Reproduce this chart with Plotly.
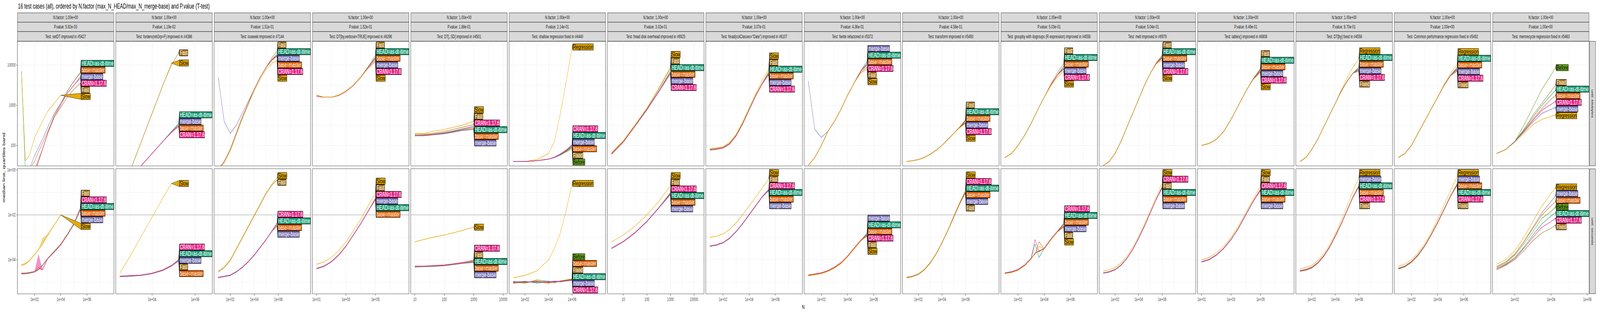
import plotly.graph_objects as go

FONT = "Liberation Sans, Arial, sans-serif"
TITLE = "16 test cases (all), ordered by N.factor (max_N_HEAD/max_N_merge-base) and P.value (T-test)"
N_FACTOR = ["1.00e+00"] * 16
P_VALUE = ["5.92e-03", "1.19e-02", "1.51e-01", "1.52e-01", "1.88e-01", "2.14e-01", "3.02e-01", "3.07e-01",
           "4.36e-01", "4.58e-01", "5.03e-01", "5.04e-01", "6.49e-01", "8.70e-01", "1.00e+00", "1.00e+00"]
TEST = [
    "Test: setDT improved in #5427",
    "Test: forderv(retGrp=F) improved in #4386",
    "Test: isoweek improved in #7144",
    "Test: DT[by,verbose=TRUE] improved in #6296",
    "Test: DT[,.SD] improved in #4501",
    "Test: shallow regression fixed in #4440",
    "Test: fread disk overhead improved in #6925",
    'Test: fread(colClasses="Date") improved in #6107',
    "Test: fwrite refactored in #5372",
    "Test: transform improved in #5493",
    "Test: groupby with dogroups (R expression) improved in #4558",
    "Test: melt improved in #6979",
    "Test: tables() improved in #6808",
    "Test: DT[by] fixed in #4558",
    "Test: Common performance regression fixed in #5492",
    "Test: memrecycle regression fixed in #5463",
]
X_TICK_EXP = [[2, 4, 6], [2, 4, 6], [2, 4, 6], [1, 3, 5], [1, 2, 3, 4], [2, 4, 6], [1, 2, 3, 4], [2, 4, 6],
              [2, 4, 6], [2, 4, 6], [2, 4, 6], [2, 4, 6], [1, 3, 5], [2, 4, 6], [2, 4, 6], [2, 4, 6]]
X_TICK_TEXT = [["1e+02", "1e+04", "1e+06"], ["1e+02", "1e+04", "1e+06"], ["1e+02", "1e+04", "1e+06"],
               ["1e+01", "1e+03", "1e+05"], ["10", "100", "1000", "10000"], ["1e+02", "1e+04", "1e+06"],
               ["10", "100", "1000", "10000"], ["1e+02", "1e+04", "1e+06"], ["1e+02", "1e+04", "1e+06"],
               ["1e+02", "1e+04", "1e+06"], ["1e+02", "1e+04", "1e+06"], ["1e+02", "1e+04", "1e+06"],
               ["1e+01", "1e+03", "1e+05"], ["1e+02", "1e+04", "1e+06"], ["1e+02", "1e+04", "1e+06"],
               ["1e+02", "1e+04", "1e+06"]]
Y_TICK_EXP_KB = [2, 3, 4]
Y_TICK_TEXT_KB = ["100", "1000", "10000"]
Y_TICK_EXP_SEC = [-4, -2, 0]
Y_TICK_TEXT_SEC = ["1e-04", "1e-02", "1e+00"]
ROW_LABELS = ["unit: kilobytes", "unit: seconds"]

H = "HEAD=as-dt-itime"; B = "base=master"; M = "merge-base"; C = "CRAN=1.17.6"
F = "Fast"; S = "Slow"; R = "Regression"; X = "Fixed"; BF = "Before"
COLORS = {H: "#1B9E77", B: "#D95F02", M: "#7570B3", C: "#E7298A", BF: "#66A61E",
          S: "#E6AB02", R: "#E6AB02", F: "#A6761D", X: "#A6761D"}
BAND_COLORS = {H: "rgba(27,158,119,0.5)", B: "rgba(217,95,2,0.5)", M: "rgba(117,112,179,0.5)",
               C: "rgba(231,41,138,0.5)", BF: "rgba(102,166,30,0.5)", S: "rgba(230,171,2,0.5)",
               R: "rgba(230,171,2,0.5)", F: "rgba(166,118,29,0.5)", X: "rgba(166,118,29,0.5)"}
DARK_TEXT = {S, R, BF}

# ---- data: log10(N) and log10(median) per series ----
P01_N = [1, 1.3, 1.6, 2, 2.3, 2.6, 3, 3.5, 4, 4.5, 5, 5.5]
P01_KB = {
    H: [3.85, 1.30, 1.20, 1.30, 1.60, 1.90, 2.30, 2.75, 3.05, 3.35, 3.60, 3.82],
    B: [1.30, 1.30, 1.25, 1.35, 1.60, 1.90, 2.30, 2.75, 3.05, 3.35, 3.60, 3.80],
    M: [1.30, 1.30, 1.40, 1.75, 1.95, 2.15, 2.45, 2.80, 3.05, 3.30, 3.50, 3.71],
    C: [1.30, 1.30, 1.30, 1.40, 1.65, 1.90, 2.30, 2.70, 3.00, 3.30, 3.50, 3.68],
    F: [1.30, 1.30, 1.40, 1.60, 1.85, 2.05, 2.35, 2.70, 2.95, 3.20, 3.40, 3.55],
    S: [3.83, 1.62, 1.75, 2.20, 2.40, 2.60, 2.85, 3.05, 3.25],
}
P01_SEC = {
    H: [-4.63, -4.62, -4.60, -4.54, -4.45, -4.25, -3.95, -3.65, -3.33, -2.90, -2.42, -1.74],
    B: [-4.62, -4.60, -4.58, -4.54, -4.45, -4.25, -3.95, -3.64, -3.32, -2.88, -2.40, -1.76],
    M: [-4.64, -4.63, -4.60, -4.55, -4.45, -4.26, -3.96, -3.66, -3.34, -2.90, -2.43, -1.78],
    C: [-4.60, -4.60, -4.58, -4.54, -4.35, -4.45, -3.95, -3.64, -3.33, -2.88, -2.40, -1.72],
    F: [-4.62, -4.60, -4.58, -4.53, -4.44, -4.24, -3.94, -3.62, -3.30, -2.86, -2.38, -1.68],
    S: [-4.24, -4.18, -4.05, -3.77, -3.55, -3.30, -2.89, -2.45, -2.00],
}
# quartile bands (log10 of first and third quartile)
P01_SEC_BAND = {
    C: ([-4.62, -4.62, -4.60, -4.56, -4.40, -4.47, -3.97, -3.66, -3.35, -2.90, -2.42, -1.75],
        [-4.58, -4.58, -4.55, -4.50, -3.75, -4.40, -3.92, -3.62, -3.31, -2.86, -2.38, -1.70]),
    S: ([-4.28, -4.22, -4.08, -3.80, -3.58, -3.34, -2.95, -2.48, -2.03],
        [-4.20, -4.14, -4.02, -3.74, -3.52, -3.05, -2.85, -2.42, -1.97]),
}
P02_N = [2.5, 3, 3.5, 4, 4.5, 4.9, 5.24]
P02_KB = {
    S: [0.70, 1.40, 2.10, 2.80, 3.50, 4.05],
    F: [0.70, 1.40, 2.10, 2.80, 3.50, 4.00, 4.31],
    H: [0.90, 1.20, 1.50, 1.80, 2.10, 2.35, 2.55],
    B: [0.90, 1.20, 1.50, 1.80, 2.10, 2.33, 2.50],
    M: [0.90, 1.20, 1.50, 1.80, 2.10, 2.34, 2.52],
    C: [0.90, 1.20, 1.50, 1.80, 2.10, 2.32, 2.48],
}
P02_SEC = {
    S: [-4.60, -3.80, -2.95, -2.10, -1.25, -0.60],
    F: [-4.75, -4.72, -4.68, -4.60, -4.45, -4.25, -4.05],
    H: [-4.75, -4.73, -4.70, -4.62, -4.48, -4.28, -4.02],
    B: [-4.74, -4.72, -4.69, -4.61, -4.47, -4.27, -4.06],
    M: [-4.76, -4.74, -4.70, -4.62, -4.48, -4.29, -4.04],
    C: [-4.73, -4.71, -4.68, -4.60, -4.46, -4.26, -3.98],
}
P03_N = [1, 1.5, 2, 2.5, 3, 3.5, 4, 4.5, 5, 5.5, 5.9]
P03_KB = {
    M: [3.70, 2.60, 2.30, 2.50, 2.80, 3.10, 3.40, 3.70, 3.95, 4.15, 4.25],
    H: [1.40, 1.60, 1.90, 2.30, 2.70, 3.05, 3.40, 3.70, 3.95, 4.15, 4.28],
    B: [1.40, 1.60, 1.90, 2.30, 2.70, 3.05, 3.40, 3.70, 3.95, 4.14, 4.24],
    C: [1.40, 1.60, 1.90, 2.30, 2.70, 3.05, 3.40, 3.70, 3.95, 4.13, 4.22],
    F: [1.40, 1.60, 1.90, 2.30, 2.70, 3.05, 3.40, 3.70, 3.95, 4.20, 4.35],
    S: [1.40, 1.55, 1.85, 2.25, 2.65, 3.00, 3.35, 3.65, 3.90, 4.05, 4.12],
}
P03_SEC = {
    S: [-4.50, -4.30, -4.00, -3.50, -3.00, -2.50, -2.00, -1.50, -1.00, -0.60, -0.35],
    F: [-4.55, -4.35, -4.05, -3.55, -3.05, -2.55, -2.05, -1.55, -1.05, -0.65, -0.45],
    H: [-4.80, -4.75, -4.70, -4.55, -4.35, -4.10, -3.80, -3.45, -3.10, -2.70, -2.40],
    B: [-4.80, -4.75, -4.70, -4.55, -4.35, -4.10, -3.80, -3.45, -3.10, -2.70, -2.45],
    M: [-4.80, -4.75, -4.70, -4.55, -4.35, -4.10, -3.80, -3.45, -3.10, -2.72, -2.50],
    C: [-4.78, -4.73, -4.68, -4.53, -4.33, -4.08, -3.78, -3.43, -3.08, -2.68, -2.35],
}
P04_N = [1, 1.5, 2, 2.5, 3, 3.5, 4, 4.5, 5]
P04_KB = {
    H: [3.25, 3.20, 3.20, 3.25, 3.35, 3.50, 3.70, 3.95, 4.20],
    B: [3.25, 3.20, 3.20, 3.25, 3.35, 3.50, 3.70, 3.95, 4.18],
    M: [3.25, 3.20, 3.20, 3.25, 3.35, 3.50, 3.70, 3.95, 4.16],
    C: [3.22, 3.20, 3.20, 3.24, 3.34, 3.49, 3.69, 3.93, 4.12],
    F: [3.25, 3.20, 3.20, 3.25, 3.35, 3.50, 3.70, 3.96, 4.25],
    S: [3.25, 3.20, 3.20, 3.25, 3.35, 3.50, 3.70, 3.92, 4.08],
}
P04_SEC = {
    S: [-4.20, -4.10, -3.90, -3.60, -3.20, -2.70, -2.20, -1.60, -1.00],
    F: [-4.40, -4.30, -4.10, -3.80, -3.40, -2.90, -2.40, -1.85, -1.25],
    H: [-4.40, -4.30, -4.10, -3.80, -3.40, -2.90, -2.40, -1.85, -1.30],
    B: [-4.40, -4.30, -4.10, -3.80, -3.40, -2.90, -2.40, -1.85, -1.32],
    M: [-4.40, -4.30, -4.10, -3.80, -3.40, -2.90, -2.40, -1.85, -1.28],
    C: [-4.38, -4.28, -4.08, -3.78, -3.38, -2.88, -2.38, -1.83, -1.27],
}
P05_N = [1, 1.3, 1.6, 2, 2.3, 2.6, 3]
P05_KB = {
    S: [2.30, 2.30, 2.35, 2.40, 2.45, 2.50, 2.60],
    F: [2.28, 2.28, 2.30, 2.35, 2.40, 2.45, 2.52],
    C: [2.25, 2.26, 2.28, 2.32, 2.36, 2.41, 2.48],
    H: [2.25, 2.25, 2.27, 2.31, 2.35, 2.40, 2.45],
    B: [2.25, 2.25, 2.27, 2.30, 2.34, 2.38, 2.42],
    M: [2.24, 2.24, 2.26, 2.29, 2.33, 2.37, 2.40],
}
P05_SEC = {
    S: [-3.20, -3.10, -3.00, -2.90, -2.80, -2.70, -2.55],
    F: [-4.30, -4.30, -4.28, -4.25, -4.20, -4.15, -4.05],
    C: [-4.28, -4.28, -4.26, -4.23, -4.18, -4.12, -4.02],
    H: [-4.32, -4.31, -4.29, -4.26, -4.21, -4.16, -4.08],
    B: [-4.31, -4.30, -4.28, -4.25, -4.20, -4.15, -4.10],
    M: [-4.33, -4.32, -4.30, -4.27, -4.22, -4.17, -4.12],
}
P06_N = [1, 2, 3, 4, 4.5, 5, 5.5, 6]
P06_KB = {
    R: [1.60, 1.60, 1.65, 1.80, 2.10, 2.80, 3.60, 4.45],
    X: [1.60, 1.60, 1.62, 1.66, 1.70, 1.76, 1.85, 1.95],
    BF: [1.60, 1.60, 1.62, 1.66, 1.70, 1.76, 1.84, 1.92],
    H: [1.60, 1.60, 1.62, 1.66, 1.71, 1.78, 1.88, 2.00],
    B: [1.60, 1.60, 1.62, 1.66, 1.70, 1.77, 1.86, 1.97],
    M: [1.60, 1.60, 1.62, 1.66, 1.70, 1.77, 1.87, 1.98],
    C: [1.60, 1.60, 1.62, 1.66, 1.71, 1.79, 1.89, 2.02],
}
P06_SEC = {
    R: [-4.80, -4.70, -4.50, -4.00, -3.50, -2.80, -1.80, -0.60],
    X: [-5.05, -5.00, -4.95, -5.02, -4.98, -4.96, -4.92, -4.88],
    BF: [-4.98, -5.05, -4.90, -4.97, -5.03, -4.94, -4.90, -4.85],
    H: [-5.02, -4.96, -5.04, -4.99, -4.95, -4.98, -4.93, -4.90],
    B: [-5.00, -5.02, -4.97, -5.05, -4.97, -4.95, -4.91, -4.87],
    M: [-4.96, -4.99, -5.01, -4.95, -5.00, -4.97, -4.94, -4.91],
    C: [-5.04, -4.98, -4.99, -5.00, -4.96, -4.99, -4.95, -4.92],
}
P07_N = [0.5, 1, 1.5, 2, 2.5, 3]
P07_KB = {
    H: [1.80, 2.10, 2.50, 2.90, 3.35, 3.85],
    B: [1.80, 2.10, 2.50, 2.90, 3.35, 3.82],
    M: [1.80, 2.10, 2.50, 2.90, 3.35, 3.80],
    C: [1.78, 2.08, 2.48, 2.88, 3.33, 3.78],
    F: [1.80, 2.10, 2.50, 2.92, 3.40, 3.92],
    S: [1.82, 2.12, 2.52, 2.93, 3.42, 3.95],
}
P07_SEC = {
    S: [-3.20, -2.90, -2.50, -2.00, -1.40, -0.70],
    F: [-3.50, -3.20, -2.80, -2.30, -1.70, -1.00],
    H: [-3.50, -3.20, -2.80, -2.30, -1.70, -1.05],
    B: [-3.50, -3.20, -2.80, -2.30, -1.70, -1.08],
    M: [-3.50, -3.20, -2.80, -2.30, -1.70, -1.10],
    C: [-3.48, -3.18, -2.78, -2.28, -1.68, -1.02],
}
P08_N = [1, 1.5, 2, 2.5, 3, 3.5, 4, 4.5, 5, 5.5]
P08_KB = {
    H: [1.90, 1.92, 1.95, 2.05, 2.25, 2.55, 2.90, 3.25, 3.55, 3.82],
    B: [1.90, 1.92, 1.95, 2.05, 2.25, 2.55, 2.90, 3.25, 3.55, 3.80],
    M: [1.90, 1.92, 1.95, 2.05, 2.25, 2.55, 2.90, 3.25, 3.55, 3.78],
    C: [1.88, 1.90, 1.93, 2.03, 2.23, 2.53, 2.88, 3.23, 3.53, 3.76],
    F: [1.90, 1.92, 1.95, 2.05, 2.25, 2.55, 2.90, 3.25, 3.55, 3.84],
    S: [1.92, 1.94, 1.97, 2.08, 2.28, 2.58, 2.95, 3.30, 3.62, 3.90],
}
P08_SEC = {
    S: [-3.00, -2.95, -2.85, -2.65, -2.35, -2.00, -1.60, -1.20, -0.80, -0.40],
    F: [-3.40, -3.35, -3.25, -3.05, -2.75, -2.40, -2.00, -1.60, -1.20, -0.85],
    H: [-3.40, -3.35, -3.25, -3.05, -2.75, -2.40, -2.00, -1.60, -1.20, -0.88],
    B: [-3.40, -3.35, -3.25, -3.05, -2.75, -2.40, -2.00, -1.60, -1.20, -0.90],
    M: [-3.40, -3.35, -3.25, -3.05, -2.75, -2.40, -2.00, -1.60, -1.20, -0.92],
    C: [-3.38, -3.33, -3.23, -3.03, -2.73, -2.38, -1.98, -1.58, -1.18, -0.86],
}
P09_N = [1, 1.5, 2, 2.5, 3, 3.5, 4, 4.5, 5, 5.5]
P09_KB = {
    M: [3.60, 2.40, 2.20, 2.35, 2.60, 2.90, 3.25, 3.55, 3.85, 4.10],
    H: [1.50, 1.70, 2.00, 2.35, 2.60, 2.90, 3.25, 3.55, 3.85, 4.05],
    B: [1.50, 1.70, 2.00, 2.35, 2.60, 2.90, 3.25, 3.55, 3.85, 4.02],
    C: [1.50, 1.70, 2.00, 2.35, 2.60, 2.90, 3.25, 3.55, 3.85, 4.00],
    F: [1.50, 1.70, 2.00, 2.35, 2.60, 2.90, 3.25, 3.55, 3.82, 3.95],
    S: [1.50, 1.70, 2.00, 2.35, 2.60, 2.90, 3.25, 3.55, 3.80, 3.90],
}
P09_SEC = {
    M: [-4.70, -4.65, -4.60, -4.50, -4.35, -4.15, -3.85, -3.50, -3.15, -2.80],
    H: [-4.70, -4.65, -4.60, -4.50, -4.35, -4.15, -3.85, -3.50, -3.15, -2.85],
    B: [-4.70, -4.65, -4.60, -4.50, -4.35, -4.15, -3.85, -3.50, -3.15, -2.88],
    C: [-4.68, -4.63, -4.58, -4.48, -4.33, -4.13, -3.83, -3.48, -3.13, -2.90],
    F: [-4.72, -4.67, -4.62, -4.52, -4.37, -4.17, -3.87, -3.52, -3.17, -2.92],
    S: [-4.72, -4.67, -4.62, -4.52, -4.37, -4.17, -3.87, -3.52, -3.17, -2.95],
}
P10_N = [1, 1.5, 2, 2.5, 3, 3.5, 4, 4.5, 5, 5.5, 6]
P10_KB = {
    H: [1.60, 1.62, 1.65, 1.70, 1.78, 1.88, 2.00, 2.15, 2.30, 2.45, 2.62],
    B: [1.60, 1.62, 1.65, 1.70, 1.78, 1.88, 2.00, 2.15, 2.30, 2.45, 2.60],
    M: [1.60, 1.62, 1.65, 1.70, 1.78, 1.88, 2.00, 2.15, 2.30, 2.45, 2.58],
    C: [1.60, 1.62, 1.65, 1.70, 1.78, 1.88, 2.00, 2.15, 2.30, 2.45, 2.56],
    F: [1.60, 1.62, 1.65, 1.70, 1.78, 1.88, 2.00, 2.15, 2.30, 2.46, 2.64],
    S: [1.60, 1.62, 1.65, 1.70, 1.78, 1.88, 2.00, 2.15, 2.30, 2.44, 2.54],
}
P10_SEC = {
    H: [-4.80, -4.75, -4.65, -4.45, -4.15, -3.75, -3.25, -2.70, -2.10, -1.50, -0.95],
    B: [-4.80, -4.75, -4.65, -4.45, -4.15, -3.75, -3.25, -2.70, -2.10, -1.50, -0.98],
    M: [-4.80, -4.75, -4.65, -4.45, -4.15, -3.75, -3.25, -2.70, -2.10, -1.50, -1.00],
    C: [-4.78, -4.73, -4.63, -4.43, -4.13, -3.73, -3.23, -2.68, -2.08, -1.48, -0.92],
    F: [-4.80, -4.75, -4.65, -4.45, -4.15, -3.75, -3.25, -2.70, -2.12, -1.52, -1.02],
    S: [-4.78, -4.73, -4.63, -4.43, -4.13, -3.73, -3.23, -2.68, -2.06, -1.46, -0.90],
}
P11_N = [1, 1.5, 2, 2.5, 3, 3.3, 3.6, 4, 4.5, 5, 5.5]
P11_KB = {
    H: [1.70, 1.80, 2.00, 2.25, 2.55, 2.75, 2.95, 3.20, 3.50, 3.75, 3.98],
    B: [1.70, 1.80, 2.00, 2.25, 2.55, 2.75, 2.95, 3.20, 3.50, 3.75, 3.95],
    M: [1.70, 1.80, 2.00, 2.25, 2.55, 2.75, 2.95, 3.20, 3.50, 3.75, 3.92],
    C: [1.70, 1.80, 2.00, 2.25, 2.55, 2.75, 2.95, 3.20, 3.50, 3.75, 3.90],
    F: [1.70, 1.80, 2.00, 2.25, 2.55, 2.75, 2.95, 3.20, 3.52, 3.80, 4.05],
    S: [1.70, 1.80, 2.00, 2.25, 2.55, 2.75, 2.95, 3.20, 3.48, 3.70, 3.85],
}
P11_SEC = {
    H: [-4.60, -4.55, -4.45, -4.25, -3.95, -3.30, -3.90, -3.50, -3.10, -2.75, -2.40],
    B: [-4.60, -4.55, -4.45, -4.25, -3.95, -3.75, -3.20, -3.50, -3.10, -2.75, -2.45],
    M: [-4.60, -4.55, -4.45, -4.25, -3.95, -3.70, -3.60, -3.50, -3.10, -2.75, -2.50],
    C: [-4.58, -4.53, -4.43, -4.23, -3.93, -3.10, -3.65, -3.48, -3.08, -2.73, -2.38],
    F: [-4.62, -4.57, -4.47, -4.27, -3.97, -3.72, -3.62, -3.52, -3.12, -2.77, -2.52],
    S: [-4.62, -4.57, -4.47, -4.27, -3.97, -3.72, -3.40, -3.52, -3.12, -2.77, -2.55],
}
P12_N = [1, 1.5, 2, 2.5, 3, 3.5, 4, 4.5, 5, 5.5, 6]
P12_KB = {
    H: [1.50, 1.60, 1.80, 2.10, 2.45, 2.80, 3.15, 3.50, 3.80, 4.05, 4.22],
    B: [1.50, 1.60, 1.80, 2.10, 2.45, 2.80, 3.15, 3.50, 3.80, 4.05, 4.20],
    M: [1.50, 1.60, 1.80, 2.10, 2.45, 2.80, 3.15, 3.50, 3.80, 4.05, 4.18],
    C: [1.50, 1.60, 1.80, 2.10, 2.45, 2.80, 3.15, 3.50, 3.80, 4.05, 4.16],
    F: [1.50, 1.60, 1.80, 2.10, 2.45, 2.80, 3.15, 3.50, 3.80, 4.06, 4.25],
    S: [1.50, 1.60, 1.80, 2.10, 2.45, 2.80, 3.15, 3.50, 3.80, 4.03, 4.12],
}
P12_SEC = {
    S: [-4.50, -4.45, -4.35, -4.15, -3.85, -3.45, -2.95, -2.40, -1.80, -1.20, -0.55],
    F: [-4.60, -4.55, -4.45, -4.25, -3.95, -3.55, -3.05, -2.50, -1.90, -1.30, -0.75],
    H: [-4.60, -4.55, -4.45, -4.25, -3.95, -3.55, -3.05, -2.50, -1.90, -1.30, -0.78],
    B: [-4.60, -4.55, -4.45, -4.25, -3.95, -3.55, -3.05, -2.50, -1.90, -1.30, -0.80],
    M: [-4.60, -4.55, -4.45, -4.25, -3.95, -3.55, -3.05, -2.50, -1.90, -1.30, -0.82],
    C: [-4.58, -4.53, -4.43, -4.23, -3.93, -3.53, -3.03, -2.48, -1.88, -1.28, -0.74],
}
P13_N = [1, 1.5, 2, 2.5, 3, 3.5, 4, 4.5, 5]
P13_KB = {
    H: [2.00, 2.05, 2.15, 2.35, 2.65, 3.00, 3.35, 3.65, 3.90],
    B: [2.00, 2.05, 2.15, 2.35, 2.65, 3.00, 3.35, 3.65, 3.88],
    M: [2.00, 2.05, 2.15, 2.35, 2.65, 3.00, 3.35, 3.65, 3.86],
    C: [2.00, 2.05, 2.15, 2.35, 2.65, 3.00, 3.35, 3.65, 3.84],
    F: [2.00, 2.05, 2.15, 2.35, 2.65, 3.00, 3.35, 3.66, 3.92],
    S: [2.00, 2.05, 2.15, 2.35, 2.65, 3.00, 3.35, 3.64, 3.82],
}
P13_SEC = {
    S: [-4.00, -3.90, -3.70, -3.40, -3.00, -2.50, -1.90, -1.30, -0.70],
    F: [-4.10, -4.00, -3.80, -3.50, -3.10, -2.60, -2.00, -1.40, -0.85],
    H: [-4.10, -4.00, -3.80, -3.50, -3.10, -2.60, -2.00, -1.40, -0.88],
    B: [-4.10, -4.00, -3.80, -3.50, -3.10, -2.60, -2.00, -1.40, -0.90],
    M: [-4.10, -4.00, -3.80, -3.50, -3.10, -2.60, -2.00, -1.40, -0.92],
    C: [-4.08, -3.98, -3.78, -3.48, -3.08, -2.58, -1.98, -1.38, -0.86],
}
P14_N = [1, 1.5, 2, 2.5, 3, 3.5, 4, 4.5, 5, 5.5, 6]
P14_KB = {
    H: [1.60, 1.70, 1.90, 2.15, 2.45, 2.75, 3.05, 3.35, 3.60, 3.80, 3.95],
    B: [1.60, 1.70, 1.90, 2.15, 2.45, 2.75, 3.05, 3.35, 3.60, 3.80, 3.92],
    M: [1.60, 1.70, 1.90, 2.15, 2.45, 2.75, 3.05, 3.35, 3.60, 3.80, 3.90],
    C: [1.60, 1.70, 1.90, 2.15, 2.45, 2.75, 3.05, 3.35, 3.60, 3.80, 3.88],
    X: [1.60, 1.70, 1.90, 2.15, 2.45, 2.75, 3.05, 3.35, 3.60, 3.80, 3.85],
    R: [1.60, 1.70, 1.90, 2.15, 2.45, 2.75, 3.05, 3.38, 3.68, 3.95, 4.15],
}
P14_SEC = {
    R: [-4.40, -4.35, -4.25, -4.05, -3.75, -3.35, -2.85, -2.25, -1.60, -0.95, -0.35],
    H: [-4.50, -4.45, -4.35, -4.15, -3.85, -3.45, -2.95, -2.40, -1.80, -1.20, -0.70],
    B: [-4.50, -4.45, -4.35, -4.15, -3.85, -3.45, -2.95, -2.40, -1.80, -1.20, -0.72],
    M: [-4.50, -4.45, -4.35, -4.15, -3.85, -3.45, -2.95, -2.40, -1.80, -1.20, -0.68],
    C: [-4.48, -4.43, -4.33, -4.13, -3.83, -3.43, -2.93, -2.38, -1.78, -1.18, -0.74],
    X: [-4.52, -4.47, -4.37, -4.17, -3.87, -3.47, -2.97, -2.42, -1.82, -1.22, -0.76],
}
P15_N = [1, 1.5, 2, 2.5, 3, 3.5, 4, 4.5, 5, 5.5]
P15_KB = {
    H: [1.70, 1.80, 2.00, 2.30, 2.60, 2.90, 3.20, 3.50, 3.75, 3.95],
    B: [1.70, 1.80, 2.00, 2.30, 2.60, 2.90, 3.20, 3.50, 3.75, 3.92],
    M: [1.70, 1.80, 2.00, 2.30, 2.60, 2.90, 3.20, 3.50, 3.75, 3.90],
    C: [1.70, 1.80, 2.00, 2.30, 2.60, 2.90, 3.20, 3.50, 3.75, 3.88],
    X: [1.70, 1.80, 2.00, 2.30, 2.60, 2.90, 3.20, 3.50, 3.74, 3.85],
    R: [1.70, 1.80, 2.00, 2.30, 2.60, 2.90, 3.20, 3.52, 3.80, 4.02],
}
P15_SEC = {
    R: [-4.30, -4.20, -4.00, -3.70, -3.30, -2.80, -2.20, -1.55, -0.90, -0.30],
    M: [-4.40, -4.30, -4.10, -3.80, -3.40, -2.90, -2.35, -1.75, -1.15, -0.60],
    B: [-4.40, -4.30, -4.10, -3.80, -3.40, -2.90, -2.35, -1.75, -1.15, -0.62],
    H: [-4.40, -4.30, -4.10, -3.80, -3.40, -2.90, -2.35, -1.75, -1.15, -0.64],
    C: [-4.38, -4.28, -4.08, -3.78, -3.38, -2.88, -2.33, -1.73, -1.13, -0.66],
    X: [-4.42, -4.32, -4.12, -3.82, -3.42, -2.92, -2.37, -1.77, -1.17, -0.68],
}
P16_N = [1, 1.5, 2, 2.5, 3, 3.5, 4, 4.25]
P16_KB = {
    BF: [1.80, 1.90, 2.10, 2.50, 2.95, 3.40, 3.75, 3.94],
    X: [1.80, 1.90, 2.10, 2.40, 2.75, 3.05, 3.35, 3.50],
    H: [1.80, 1.90, 2.10, 2.38, 2.70, 3.00, 3.25, 3.38],
    B: [1.80, 1.90, 2.10, 2.36, 2.65, 2.92, 3.15, 3.25],
    C: [1.80, 1.90, 2.10, 2.35, 2.62, 2.88, 3.02, 3.10],
    M: [1.80, 1.90, 2.10, 2.33, 2.58, 2.80, 2.90, 2.95],
    R: [1.80, 1.90, 2.08, 2.30, 2.52, 2.65, 2.72, 2.76],
}
P16_SEC = {
    R: [-4.20, -4.00, -3.60, -3.00, -2.30, -1.60, -1.05, -0.80],
    M: [-4.30, -4.10, -3.75, -3.20, -2.55, -1.90, -1.40, -1.15],
    B: [-4.30, -4.10, -3.75, -3.20, -2.60, -2.00, -1.60, -1.40],
    BF: [-4.35, -4.15, -3.80, -3.30, -2.75, -2.15, -1.85, -1.65],
    H: [-4.40, -4.20, -3.90, -3.45, -2.90, -2.40, -2.05, -1.90],
    C: [-4.40, -4.22, -3.95, -3.50, -3.00, -2.55, -2.30, -2.15],
    X: [-4.45, -4.25, -4.00, -3.60, -3.15, -2.80, -2.60, -2.45],
}

PANELS = [
    (P01_N, P01_KB, P01_SEC), (P02_N, P02_KB, P02_SEC), (P03_N, P03_KB, P03_SEC), (P04_N, P04_KB, P04_SEC),
    (P05_N, P05_KB, P05_SEC), (P06_N, P06_KB, P06_SEC), (P07_N, P07_KB, P07_SEC), (P08_N, P08_KB, P08_SEC),
    (P09_N, P09_KB, P09_SEC), (P10_N, P10_KB, P10_SEC), (P11_N, P11_KB, P11_SEC), (P12_N, P12_KB, P12_SEC),
    (P13_N, P13_KB, P13_SEC), (P14_N, P14_KB, P14_SEC), (P15_N, P15_KB, P15_SEC), (P16_N, P16_KB, P16_SEC),
]
BANDS = {(0, 1): P01_SEC_BAND}

# ---- geometry (pixels of the 6400x800 design) ----
W, HT = 6400, 800
L0, RPLOT, T0, B0 = 70, 6392, 33, 753
PW, GAP = 386, 8
STRIP_H = 24
ROWS = [dict(top=106, bot=425, ref=(4.0, 167.0, 103.0)),
        dict(top=433, bot=753, ref=(-2.0, 551.0, 57.5))]
LAB_H = 17


def fx(px):
    return (px - L0) / (RPLOT - L0)


def fy(py):
    return (B0 - py) / (B0 - T0)


def v2px(v, ref):
    return ref[1] - (v - ref[0]) * ref[2]


def px2v(p, ref):
    return ref[0] - (p - ref[1]) / ref[2]


def stack(desired, d, lo, hi):
    order = sorted(range(len(desired)), key=lambda i: desired[i])
    clusters = []
    for i in order:
        clusters.append([[i], desired[i]])
        while len(clusters) > 1:
            a, b = clusters[-2], clusters[-1]
            a_bot = a[1] + (len(a[0]) - 1) * d / 2
            b_top = b[1] - (len(b[0]) - 1) * d / 2
            if b_top - a_bot < d:
                mem = a[0] + b[0]
                clusters[-2:] = [[mem, sum(desired[j] for j in mem) / len(mem)]]
            else:
                break
    pos = {}
    for mem, cen in clusters:
        st = cen - (len(mem) - 1) * d / 2
        for k, j in enumerate(mem):
            pos[j] = st + k * d
    p = [pos[i] for i in order]
    p[0] = max(p[0], lo)
    for k in range(1, len(p)):
        p[k] = max(p[k], p[k - 1] + d)
    p[-1] = min(p[-1], hi)
    for k in range(len(p) - 2, -1, -1):
        p[k] = min(p[k], p[k + 1] - d)
    return {order[k]: p[k] for k in range(len(p))}


def minor_list(majors, lo, hi):
    step = majors[1] - majors[0] if len(majors) > 1 else 1
    out = []
    m = majors[0] - step / 2
    while m - step > lo:
        m -= step
    while m < hi:
        if m > lo:
            out.append(10 ** m)
        m += step
    return out


fig = go.Figure()
annotations = []
shapes = []
layout_axes = {}

for c, (NL, KB, SEC) in enumerate(PANELS):
    left = L0 + c * (PW + GAP)
    right = left + PW
    nmin = min(NL)
    nmax = max(NL[len(v) - 1] for v in list(KB.values()) + list(SEC.values()))
    pxdec = (PW - 16 - 134) / (nmax - nmin)
    xr = [nmin - 16 / pxdec, nmax + 134 / pxdec]

    for r, series in enumerate([KB, SEC]):
        row = ROWS[r]
        ref = row["ref"]
        k = r * 16 + c + 1
        xn = "x" if k == 1 else f"x{k}"
        yn = "y" if k == 1 else f"y{k}"
        yr = [px2v(row["bot"], ref), px2v(row["top"], ref)]
        yticks = Y_TICK_EXP_KB if r == 0 else Y_TICK_EXP_SEC
        yticktext = Y_TICK_TEXT_KB if r == 0 else Y_TICK_TEXT_SEC

        layout_axes["xaxis" if k == 1 else f"xaxis{k}"] = dict(
            domain=[fx(left), fx(right)], anchor=yn, type="log", range=xr,
            showline=True, mirror=True, linecolor="#333333", linewidth=1.1,
            showgrid=True, gridcolor="#EBEBEB", gridwidth=1.1, zeroline=False,
            tickvals=[10 ** e for e in X_TICK_EXP[c]], ticktext=X_TICK_TEXT[c],
            showticklabels=(r == 1), ticks="outside" if r == 1 else "", ticklen=4,
            tickcolor="#333333", tickwidth=1,
            tickfont=dict(family=FONT, size=12, color="#4D4D4D"),
            minor=dict(tickvals=minor_list(X_TICK_EXP[c], xr[0], xr[1]), showgrid=True,
                       gridcolor="#F0F0F0", gridwidth=0.6, ticks=""),
        )
        layout_axes["yaxis" if k == 1 else f"yaxis{k}"] = dict(
            domain=[fy(row["bot"]), fy(row["top"])], anchor=xn, type="log", range=yr,
            showline=True, mirror=True, linecolor="#333333", linewidth=1.1,
            showgrid=True, gridcolor="#EBEBEB", gridwidth=1.1, zeroline=False,
            tickvals=[10 ** e for e in yticks], ticktext=yticktext,
            showticklabels=(c == 0), ticks="outside" if c == 0 else "", ticklen=4,
            tickcolor="#333333", tickwidth=1,
            tickfont=dict(family=FONT, size=12, color="#4D4D4D"),
            minor=dict(tickvals=minor_list(yticks, yr[0], yr[1]), showgrid=True,
                       gridcolor="#F0F0F0", gridwidth=0.6, ticks=""),
        )

        if r == 1:
            fig.add_trace(go.Scatter(x=[10 ** xr[0], 10 ** xr[1]], y=[0.01, 0.01], mode="lines",
                                     line=dict(color="#BDBDBD", width=1.3), xaxis=xn, yaxis=yn,
                                     showlegend=False, hoverinfo="skip"))

        for nm, (lo_v, hi_v) in BANDS.get((c, r), {}).items():
            nn = NL[:len(lo_v)]
            fig.add_trace(go.Scatter(
                x=[10 ** n for n in nn] + [10 ** n for n in nn[::-1]],
                y=[10 ** v for v in hi_v] + [10 ** v for v in lo_v[::-1]],
                mode="lines", fill="toself", fillcolor=BAND_COLORS[nm], line=dict(width=0),
                xaxis=xn, yaxis=yn, showlegend=False, hoverinfo="skip"))

        names = list(series.keys())
        for nm in names:
            vals = series[nm]
            fig.add_trace(go.Scatter(x=[10 ** n for n in NL[:len(vals)]], y=[10 ** v for v in vals],
                                     mode="lines", line=dict(color=COLORS[nm], width=1.3),
                                     xaxis=xn, yaxis=yn, showlegend=False, hoverinfo="skip"))

        tips = []
        for nm in names:
            vals = series[nm]
            tn = NL[len(vals) - 1]
            tv = vals[-1]
            tips.append((nm, tn, tv, left + (tn - xr[0]) * pxdec, v2px(tv, ref)))
        box_px = max(t[3] for t in tips) + 3
        box_n = xr[0] + (box_px - left) / pxdec
        pos = stack([t[4] for t in tips], LAB_H, row["top"] + LAB_H / 2 + 1, row["bot"] - LAB_H / 2 - 1)
        hh = 8 / ref[2]
        for i, (nm, tn, tv, tx, ty) in enumerate(tips):
            bv = px2v(pos[i], ref)
            fig.add_trace(go.Scatter(
                x=[10 ** tn, 10 ** box_n, 10 ** box_n, 10 ** tn],
                y=[10 ** tv, 10 ** (bv + hh), 10 ** (bv - hh), 10 ** tv],
                mode="lines", fill="toself", fillcolor=COLORS[nm],
                line=dict(color="black", width=0.8), xaxis=xn, yaxis=yn,
                showlegend=False, hoverinfo="skip"))
            annotations.append(dict(
                x=box_n, y=bv, xref=xn, yref=yn, text=nm, showarrow=False,
                xanchor="left", yanchor="middle", bgcolor=COLORS[nm], bordercolor="black",
                borderwidth=1, borderpad=0, height=15,
                font=dict(family=FONT, size=16, color="black" if nm in DARK_TEXT else "white")))

    for s, txt in enumerate([f"N.factor: {N_FACTOR[c]}", f"P.value: {P_VALUE[c]}", TEST[c]]):
        y0 = T0 + s * STRIP_H
        y1 = y0 + STRIP_H if s < 2 else 106
        shapes.append(dict(type="rect", xref="paper", yref="paper", x0=fx(left), x1=fx(right),
                           y0=fy(y1), y1=fy(y0), fillcolor="#D9D9D9",
                           line=dict(color="#333333", width=1.1), layer="below"))
        annotations.append(dict(x=fx((left + right) / 2), y=fy((y0 + y1) / 2), xref="paper", yref="paper",
                                text=txt, showarrow=False, xanchor="center", yanchor="middle",
                                font=dict(family=FONT, size=12, color="#1A1A1A")))

for r, row in enumerate(ROWS):
    shapes.append(dict(type="rect", xref="paper", yref="paper", x0=fx(6368), x1=fx(6392),
                       y0=fy(row["bot"]), y1=fy(row["top"]), fillcolor="#D9D9D9",
                       line=dict(color="#333333", width=1.1), layer="below"))
    annotations.append(dict(x=fx(6380), y=fy((row["top"] + row["bot"]) / 2), xref="paper", yref="paper",
                            text=ROW_LABELS[r], showarrow=False, textangle=90,
                            xanchor="center", yanchor="middle",
                            font=dict(family=FONT, size=12, color="#1A1A1A")))

annotations.append(dict(x=fx(L0), y=fy(16), xref="paper", yref="paper", text=TITLE, showarrow=False,
                        xanchor="left", yanchor="middle", font=dict(family=FONT, size=18, color="black")))
annotations.append(dict(x=fx((L0 + 6366) / 2), y=fy(786), xref="paper", yref="paper", text="N",
                        showarrow=False, xanchor="center", yanchor="middle",
                        font=dict(family=FONT, size=15, color="black")))
annotations.append(dict(x=fx(14), y=fy(430), xref="paper", yref="paper", text="median line, quartiles band",
                        showarrow=False, textangle=-90, xanchor="center", yanchor="middle",
                        font=dict(family=FONT, size=15, color="black")))

fig.update_layout(
    width=W, height=HT, margin=dict(l=L0, r=W - RPLOT, t=T0, b=HT - B0, pad=0),
    paper_bgcolor="white", plot_bgcolor="white", showlegend=False, hovermode=False,
    annotations=annotations, shapes=shapes, **layout_axes,
)

# The 6400-px-wide design is fitted to the browser window when the window is narrower.
FIT_SCRIPT = """
document.body.style.margin = '0';
document.body.style.overflow = 'hidden';
var gd = document.getElementById('{plot_id}');
var s = window.innerWidth / 6400;
if (s < 1) {
  gd.style.transformOrigin = '0 0';
  gd.style.transform = 'scale(' + s + ', 1)';
}
"""
fig.write_html("out.html", post_script=FIT_SCRIPT, config={"displayModeBar": False})
